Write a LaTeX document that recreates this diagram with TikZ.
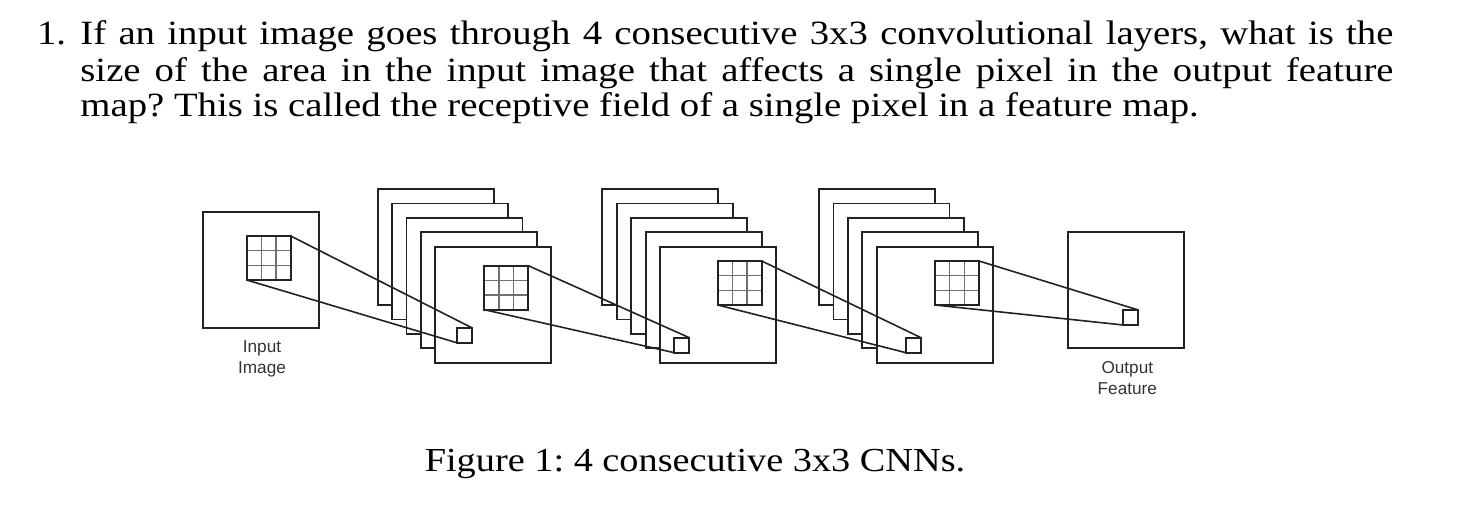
\documentclass[tikz,border=0pt]{standalone}
\usepackage{fontspec}
\setmainfont[FakeStretch=1.14]{Liberation Serif}
\newfontfamily\labelfont{Liberation Sans}
\usetikzlibrary{calc}
\frenchspacing
\definecolor{ink}{HTML}{222222}
\definecolor{gridgray}{HTML}{707070}
\definecolor{labelgray}{HTML}{333333}
\tikzset{
  fmap/.style={draw=ink, fill=white, line width=0.95pt, minimum size=58pt, inner sep=0pt, outer sep=0pt},
  kern/.style={draw=ink, fill=white, line width=0.95pt, minimum size=22pt, inner sep=0pt, outer sep=0pt},
  pix/.style={draw=ink, fill=white, line width=0.95pt, minimum size=7.5pt, inner sep=0pt, outer sep=0pt},
  gridline/.style={draw=gridgray, line width=0.8pt},
  link/.style={draw=ink, line width=0.8pt},
  lbl/.style={font=\labelfont\fontsize{8.6pt}{10.3pt}\selectfont, text=labelgray, inner sep=0pt, align=center},
  body/.style={font=\fontsize{17pt}{20pt}\selectfont, inner sep=0pt, anchor=base west},
}
\newcommand{\kgrid}[1]{%
  \foreach \t in {1,2}{%
    \draw[gridline] ($(#1.north west)!\t/3!(#1.north east)$) -- ($(#1.south west)!\t/3!(#1.south east)$);
    \draw[gridline] ($(#1.north west)!\t/3!(#1.south west)$) -- ($(#1.north east)!\t/3!(#1.south east)$);
  }%
  \draw[draw=ink, line width=0.95pt] (#1.north west) rectangle (#1.south east);
}
\begin{document}
\begin{tikzpicture}[x=0.5pt, y=-0.5pt]
\useasboundingbox (0,0) rectangle (1470,512);
% question text
\node[body] (num) at (36.7,45) {1.};
\node[body] (l1) at (80,45) {\makebox[656.5pt][s]{If an input image goes through 4 consecutive 3x3 convolutional layers, what is the}};
\node[body] (l2) at (80,81.5) {\makebox[656.5pt][s]{size of the area in the input image that affects a single pixel in the output feature}};
\node[body] (l3) at (80,117) {map? This is called the receptive field of a single pixel in a feature map.};
% input image
\node[fmap] (in) at (261.3,269.7) {};
\node[kern] (gin) at (268.7,258) {};
\kgrid{gin}
% stack 1
\foreach \i in {0,...,4}{
  \node[fmap] (sa\i) at ({493.3+14.4*(\i-4)},{304.7+14.4*(\i-4)}) {};
}
\node[kern] (ga) at (506.3,287.7) {};
\kgrid{ga}
\node[pix] (pa) at (464.2,335.2) {};
% stack 2
\foreach \i in {0,...,4}{
  \node[fmap] (sb\i) at ({718+14.4*(\i-4)},{304.7+14.4*(\i-4)}) {};
}
\node[kern] (gb) at (739.7,283) {};
\kgrid{gb}
\node[pix] (pb) at (681.8,345.2) {};
% stack 3
\foreach \i in {0,...,4}{
  \node[fmap] (sc\i) at ({934.7+14.4*(\i-4)},{304.7+14.4*(\i-4)}) {};
}
\node[kern] (gc) at (957,283) {};
\kgrid{gc}
\node[pix] (pc) at (913.5,345.2) {};
% output
\node[fmap] (out) at (1126.2,290) {};
\node[pix] (po) at (1130.8,317.5) {};
% connectors
\draw[link] (gin.north east) -- (pa.north east);
\draw[link] (gin.south west) -- (pa.south west);
\draw[link] (ga.north east) -- (pb.north east);
\draw[link] (ga.south west) -- (pb.south west);
\draw[link] (gb.north east) -- (pc.north east);
\draw[link] (gb.south west) -- (pc.south west);
\draw[link] (gc.north east) -- (po.north east);
\draw[link] (gc.south west) -- (po.south west);
% labels
\node[lbl, anchor=base] (lin) at (262,373.3) {Input\\Image};
\node[lbl, anchor=base] (lout) at (1127.3,394.3) {Output\\Feature};
% caption
\node[font=\fontsize{16.8pt}{20pt}\selectfont, inner sep=0pt, anchor=base] (cap) at (695,472) {Figure 1: 4 consecutive 3x3 CNNs.};
\end{tikzpicture}
\end{document}
